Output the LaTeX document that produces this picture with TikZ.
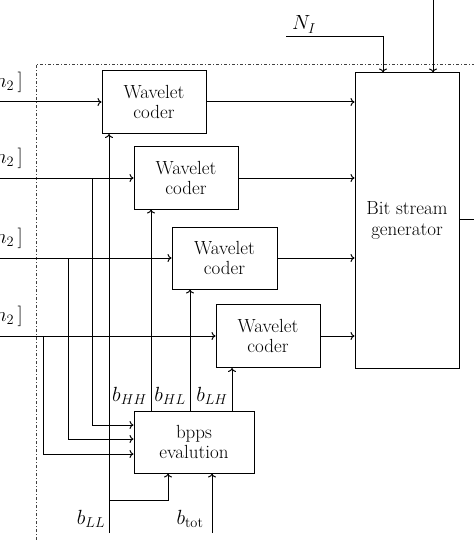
\RequirePackage{fix-cm}
\documentclass[tikz,border=0pt]{standalone}
\usetikzlibrary{arrows.meta}
\begin{document}
\begin{tikzpicture}[x=1pt,y=-1pt,
  every node/.style={font=\fontsize{19}{20.5}\selectfont},
  box/.style={draw, line width=1pt, align=center, inner sep=0pt},
  conn/.style={line width=1pt, -{To[length=4pt,width=8pt]}},
  wire/.style={line width=1pt},
  lbl/.style={inner sep=1pt, font=\fontsize{20.5}{22}\selectfont},
  frame/.style={line width=0.8pt, black!75, dash pattern=on 3pt off 2pt on 1pt off 2pt}]
\useasboundingbox (0,0) rectangle (474,540);
% dash-dot frame
\coordinate (fa) at (36,540);
\coordinate (fb) at (36,64);
\coordinate (fc) at (474,64);
\draw[frame] (fa) -- (fb) -- (fc);
% boxes
\node[box, minimum width=104pt, minimum height=63pt] (w1) at (154,102) {Wavelet\\coder};
\node[box, minimum width=104pt, minimum height=62pt] (w2) at (186,178) {Wavelet\\coder};
\node[box, minimum width=105pt, minimum height=62pt] (w3) at (224.5,258) {Wavelet\\coder};
\node[box, minimum width=104pt, minimum height=63pt] (w4) at (268,336) {Wavelet\\coder};
\node[box, minimum width=104pt, minimum height=295pt] (bsg) at (407,220.5) {Bit stream\\generator};
\node[box, minimum width=120pt, minimum height=62pt] (bp) at (194,442) {bpps\\evalution};
% inputs
\coordinate (in1) at (0,102);
\coordinate (in2) at (0,178);
\coordinate (in3) at (0,258);
\coordinate (in4) at (0,336);
\node[lbl, anchor=south east] (l1) at (24,94) {$n_2\,]$};
\node[lbl, anchor=south east] (l2) at (24,170) {$n_2\,]$};
\node[lbl, anchor=south east] (l3) at (24,250) {$n_2\,]$};
\node[lbl, anchor=south east] (l4) at (24,328) {$n_2\,]$};
\draw[conn] (in1) -- (in1 -| w1.west);
\draw[conn] (in2) -- (in2 -| w2.west);
\draw[conn] (in3) -- (in3 -| w3.west);
\draw[conn] (in4) -- (in4 -| w4.west);
% outputs to bit stream generator
\draw[conn] (w1.east) -- (w1.east -| bsg.west);
\draw[conn] (w2.east) -- (w2.east -| bsg.west);
\draw[conn] (w3.east) -- (w3.east -| bsg.west);
\draw[conn] (w4.east) -- (w4.east -| bsg.west);
% branches to bpps
\coordinate (j2) at (92,178);
\coordinate (j3) at (68,258);
\coordinate (j4) at (43,336);
\coordinate (k2) at (92,425);
\coordinate (k3) at (68,439);
\coordinate (k4) at (43,454);
\draw[conn] (j2) -- (k2) -- (k2 -| bp.west);
\draw[conn] (j3) -- (k3) -- (k3 -| bp.west);
\draw[conn] (j4) -- (k4) -- (k4 -| bp.west);
% b_LL
\coordinate (bll) at (109,533);
\coordinate (bllj) at (109,500);
\coordinate (bllk) at (168,500);
\draw[conn] (bll) -- (bll |- w1.south);
\draw[conn] (bllj) -- (bllk) -- (bllk |- bp.south);
\node[lbl, anchor=base] (tll) at (91,524) {$b_{LL}$};
% b_tot
\coordinate (btot) at (212,533);
\draw[conn] (btot) -- (btot |- bp.south);
\node[lbl, anchor=base] (ttot) at (190,524) {$b_{\mathrm{tot}}$};
% bpps outputs
\coordinate (hh) at (151,411);
\coordinate (hl) at (190,411);
\coordinate (lh) at (232,411);
\draw[conn] (hh) -- (hh |- w2.south);
\draw[conn] (hl) -- (hl |- w3.south);
\draw[conn] (lh) -- (lh |- w4.south);
\node[lbl, anchor=base] (thh) at (129.5,401) {$b_{HH}$};
\node[lbl, anchor=base] (thl) at (170,401) {$b_{HL}$};
\node[lbl, anchor=base] (tlh) at (212,401) {$b_{LH}$};
% N_I and top input
\node[lbl, anchor=base] (tni) at (304,30) {$N_I$};
\coordinate (ni) at (286,37);
\coordinate (nik) at (383,37);
\draw[conn] (ni) -- (nik) -- (nik |- bsg.north);
\coordinate (top) at (433,0);
\draw[conn] (top) -- (top |- bsg.north);
% output of generator
\coordinate (out) at (474,219);
\draw[wire] (out -| bsg.east) -- (out);
\end{tikzpicture}
\end{document}
